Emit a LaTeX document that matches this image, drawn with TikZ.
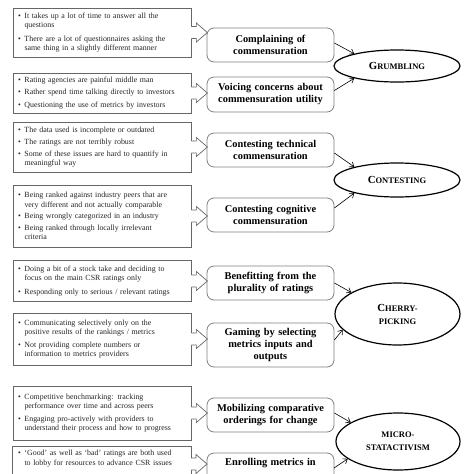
\documentclass[tikz,border=0pt]{standalone}
\usepackage{fontspec}
\setmainfont{Liberation Serif}
\usetikzlibrary{shapes.geometric,arrows.meta,calc}
\newcommand{\bi}{\makebox[6.5pt][l]{\textbullet}}
\newcommand{\ci}{\hspace*{6.5pt}}
\newcommand{\chev}[1]{%
  \fill[white] ($(#1.east)+(-0.6,-6)$) -- ++(5.6,0) -- ++(0,-3.5) -- ++(11,9.5) -- ++(-11,9.5) -- ++(0,-3.5) -- ++(-5.6,0) -- cycle;
  \draw[chevline] ($(#1.east)+(0,-6)$) -- ++(5,0) -- ++(0,-3.5) -- ++(11,9.5) -- ++(-11,9.5) -- ++(0,-3.5) -- ++(-5,0);}
\tikzset{
  lbox/.style={draw=black!60, line width=0.7pt, minimum width=178pt, text width=168pt, inner xsep=5pt, align=left,
    font=\fontsize{7.9}{9.2}\selectfont, text=black!85},
  mbox/.style={draw=black!50, rounded corners=7pt, line width=0.8pt, minimum width=127pt, text width=125pt, inner xsep=1pt, align=center,
    font=\bfseries\fontsize{10.4}{12}\selectfont},
  oval/.style={ellipse, draw, line width=1.2pt, inner sep=0pt, align=center, font=\bfseries\fontsize{8.5}{14}\selectfont},
  chevline/.style={draw=black!60, line width=0.7pt, line join=miter},
  conn/.style={-{Straight Barb[length=4pt,width=6pt]}, line width=0.6pt},
}
\newcommand{\bigc}[1]{{\fontsize{10.8}{14}\selectfont #1}}
\begin{document}
\begin{tikzpicture}[x=1pt,y=-1pt]
\useasboundingbox (0,0) rectangle (474,474);
\clip (0,0) rectangle (474,474);
\fill[white] (0,0) rectangle (474,474);

% ---------- left boxes ----------
\node[lbox, minimum height=49pt] (L1) at (102,32.5) {\bi It takes up a lot of time to answer all the\\ \ci questions\\[4pt] \bi There are a lot of questionnaires asking the\\ \ci same thing in a slightly different manner};
\node[lbox, minimum height=40pt] (L2) at (102,93) {\bi Rating agencies are painful middle man\\[3.5pt] \bi Rather spend time talking directly to investors\\[3.5pt] \bi Questioning the use of metrics by investors};
\node[lbox, minimum height=50pt] (L3) at (102,147) {\bi The data used is incomplete or outdated\\[3pt] \bi The ratings are not terribly robust\\[3pt] \bi Some of these issues are hard to quantify in\\ \ci meaningful way};
\node[lbox, minimum height=62pt] (L4) at (102,216) {\bi Being ranked against industry peers that are\\ \ci very different and not actually comparable\\[2.5pt] \bi Being wrongly categorized in an industry\\[2.5pt] \bi Being ranked through locally irrelevant\\ \ci criteria};
\node[lbox, minimum height=41pt] (L5) at (102,281) {\bi Doing a bit of a stock take and deciding to\\ \ci focus on the main CSR ratings only\\[4pt] \bi Responding only to serious / relevant ratings};
\node[lbox, minimum height=52pt] (L6) at (102,339) {\bi Communicating selectively only on the\\ \ci positive results of the rankings / metrics\\[4pt] \bi Not providing complete numbers or\\ \ci information to metrics providers};
\node[lbox, minimum height=54pt] (L7) at (102,413) {\bi Competitive benchmarking: tracking\\ \ci performance over time and across peers\\[4pt] \bi Engaging pro-actively with providers to\\ \ci understand their process and how to progress};
\node[lbox, draw=none, anchor=north, inner ysep=4pt] (L8) at (102,446) {\bi ‘Good’ as well as ‘bad’ ratings are both used\\ \ci to lobby for resources to advance CSR issues};
\draw[draw=black!60, line width=0.7pt] (L8.north west) rectangle ($(L8.north east)+(0,45)$);

% ---------- middle boxes ----------
\node[mbox, minimum height=34pt] (M1) at (270.5,45) {Complaining of\\commensuration};
\node[mbox, minimum height=35pt] (M2) at (270.5,94.5) {Voicing concerns about\\commensuration utility};
\node[mbox, minimum height=34pt] (M3) at (270.5,150) {Contesting technical\\commensuration};
\node[mbox, minimum height=34pt] (M4) at (270.5,215) {Contesting cognitive\\commensuration};
\node[mbox, minimum height=34pt] (M5) at (270.5,283) {Benefitting from the\\plurality of ratings};
\node[mbox, minimum height=44pt] (M6) at (270.5,345) {Gaming by selecting\\metrics inputs and\\outputs};
\node[mbox, minimum height=34pt] (M7) at (270.5,415) {Mobilizing comparative\\orderings for change};
\node[mbox, draw=none, anchor=north, inner ysep=5pt] (M8) at (270.5,453) {Enrolling metrics in};
\draw[draw=black!50, line width=0.8pt, rounded corners=7pt] (207,500) -- (207,453) -- (334,453) -- (334,500);
\coordinate (m8e) at (334,468);

% ---------- chevrons ----------
\chev{L1}\chev{L2}\chev{L3}\chev{L4}\chev{L5}\chev{L6}\chev{L7}
\fill[white] (190.4,458) -- ++(5.6,0) -- ++(0,-3.5) -- ++(11,9.5) -- ++(-11,9.5) -- ++(0,-3.5) -- ++(-5.6,0) -- cycle;
\draw[chevline] (191,458) -- ++(5,0) -- ++(0,-3.5) -- ++(11,9.5) -- ++(-11,9.5) -- ++(0,-3.5) -- ++(-5,0);

% ---------- ellipses ----------
\node[oval, minimum width=126pt, minimum height=32pt] (G) at (397,66) {\bigc{G}RUMBLING};
\node[oval, minimum width=126pt, minimum height=34pt] (C) at (397,180) {\bigc{C}ONTESTING};
\node[oval, minimum width=125pt, minimum height=62pt] (CP) at (397.5,314) {\bigc{C}HERRY-\\[-1pt]PICKING};
\node[oval, minimum width=124pt, minimum height=57pt] (MS) at (398,441.5) {MICRO-\\[-1pt]STATACTIVISM};

% ---------- connectors ----------
\draw[conn] ($(M1.east)+(0,-2)$) -- (G.164);
\draw[conn] ($(M2.east)+(0,-4)$) -- (G.196);
\draw[conn] ($(M3.east)+(0,3)$) -- (C.163);
\draw[conn] ($(M4.east)+(0,-7)$) -- (C.197);
\draw[conn] (M5.east) -- (CP.155);
\draw[conn] ($(M6.east)+(0,-5)$) -- (CP.196);
\draw[conn] ($(M7.east)+(0,-2)$) -- (MS.158);
\draw[conn] (m8e) -- (MS.199);
\end{tikzpicture}
\end{document}
